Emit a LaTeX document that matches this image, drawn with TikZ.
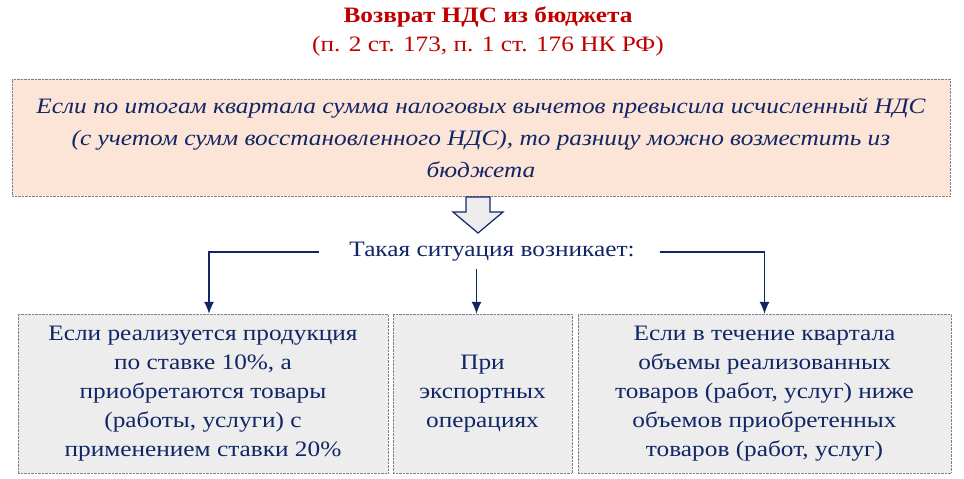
\documentclass[tikz,border=0pt]{standalone}
\usepackage{fontspec}
\setmainfont[FakeStretch=1.15]{Liberation Serif}
\usetikzlibrary{positioning, arrows.meta}
\definecolor{titlered}{RGB}{192,0,0}
\definecolor{navy}{RGB}{16,38,102}
\definecolor{peach}{RGB}{252,228,214}
\definecolor{lightgrey}{RGB}{237,237,237}
\tikzstyle{infobox} = [rectangle, draw=gray, densely dotted, fill=peach, text=navy, align=center, font=\fontsize{22}{32}\selectfont\itshape]
\tikzstyle{casebox} = [rectangle, draw=gray, densely dotted, fill=lightgrey, text=navy, align=center, minimum height=159pt, font=\fontsize{22}{29}\selectfont]
\tikzstyle{blockarrow} = [draw=navy, line width=1.2pt, fill=lightgrey]
\tikzstyle{arrow} = [navy, line width=1.2pt, -{Latex[length=12pt,width=10pt]}]

\begin{document}
\begin{tikzpicture}[x=1pt, y=1pt, node distance=2pt]
        \useasboundingbox (0,0) rectangle (964,-479);
        \node[text=titlered, font=\fontsize{22}{26}\selectfont\bfseries] (title) at (488,-17) {Возврат НДС из бюджета};
        \node[text=titlered, font=\fontsize{22}{26}\selectfont, below=of title] (law) {(п. 2 ст. 173, п. 1 ст. 176 НК РФ)};

        \node[infobox, minimum width=938pt, minimum height=117pt] (cond) at (481,-137.5)
            {Если по итогам квартала сумма налоговых вычетов превысила исчисленный НДС\\
             (с учетом сумм восстановленного НДС), то разницу можно возместить из\\
             бюджета};

        % block arrow under the condition box
        \draw[blockarrow] (466,-197) -- (490,-197) -- (490,-212) -- (503,-212) -- (478,-233) -- (453,-212) -- (466,-212) -- cycle;

        \node[text=navy, font=\fontsize{22}{26}\selectfont] (sit) at (492,-252) {Такая ситуация возникает:};

        \node[casebox, minimum width=370pt] (left)   at (203,-393.5)
            {Если реализуется продукция\\ по ставке 10\%, а\\ приобретаются товары\\ (работы, услуги) с\\ применением ставки 20\%};
        \node[casebox, minimum width=179pt] (middle) at (482.5,-393.5)
            {При\\ экспортных\\ операциях};
        \node[casebox, minimum width=373pt] (right)  at (764.5,-393.5)
            {Если в течение квартала\\ объемы реализованных\\ товаров (работ, услуг) ниже\\ объемов приобретенных\\ товаров (работ, услуг)};

        \draw[arrow] ([xshift=-27pt]sit.west) -| ([xshift=6pt]left.north);
        \draw[arrow] ([xshift=-6pt,yshift=-4pt]middle.north |- sit.south) -- ([xshift=-6pt]middle.north);
        \draw[arrow] ([xshift=22pt]sit.east)  -| (right.north);
    \end{tikzpicture}
\end{document}
